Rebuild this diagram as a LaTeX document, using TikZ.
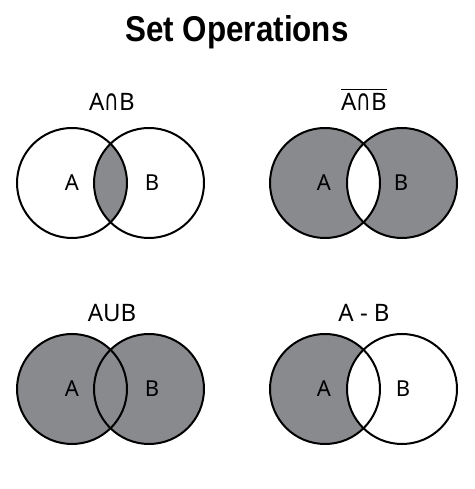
\documentclass[tikz,border=0pt]{standalone}
\usepackage{fontspec}
\usepackage{graphicx}
\setmainfont{Noto Sans}
\newfontfamily\capfont{DejaVu Sans}
\newfontfamily\headfont{Liberation Sans}
\newcommand{\mycap}{{\capfont\fontsize{20}{24}\selectfont\raisebox{0pt}{\scalebox{1}[1.45]{∩}}}}
\definecolor{setgray}{RGB}{136,138,141}
\begin{document}
\begin{tikzpicture}[x=1pt,y=1pt,
  setc/.style={circle, draw=black, line width=2pt, minimum size=110pt, inner sep=0pt},
  lab/.style={font=\fontsize{22}{24}\selectfont, inner sep=0pt},
  ttl/.style={font=\fontsize{24}{26}\selectfont, inner sep=0pt}]
\useasboundingbox (0,0) rectangle (474,489);
\fill[white] (0,0) rectangle (474,489);
% main title
\node[inner sep=0pt, anchor=base] (title) at (237,447) {\resizebox{223pt}{26pt}{\headfont\bfseries Set Operations}};

% coordinates of circle centres
\coordinate (c1a) at (72,306);  \coordinate (c1b) at (149,306);
\coordinate (c2a) at (325,306); \coordinate (c2b) at (402,306);
\coordinate (c3a) at (72,100);  \coordinate (c3b) at (149,100);
\coordinate (c4a) at (325,100); \coordinate (c4b) at (402,100);

% fills: intersection
\begin{scope}
  \clip (c1a) circle (55);
  \fill[setgray] (c1b) circle (55);
\end{scope}
% symmetric difference
\fill[setgray] (c2a) circle (55);
\fill[setgray] (c2b) circle (55);
\begin{scope}
  \clip (c2a) circle (55);
  \fill[white] (c2b) circle (55);
\end{scope}
% union
\fill[setgray] (c3a) circle (55);
\fill[setgray] (c3b) circle (55);
% difference
\fill[setgray] (c4a) circle (55);
\begin{scope}
  \clip (c4a) circle (55);
  \fill[white] (c4b) circle (55);
\end{scope}

% circles
\node[setc] (A1) at (c1a) {}; \node[setc] (B1) at (c1b) {};
\node[setc] (A2) at (c2a) {}; \node[setc] (B2) at (c2b) {};
\node[setc] (A3) at (c3a) {}; \node[setc] (B3) at (c3b) {};
\node[setc] (A4) at (c4a) {}; \node[setc] (B4) at (c4b) {};

% letters
\node[lab] (la1) at (72,306) {A};  \node[lab] (lb1) at (152,306) {B};
\node[lab] (la2) at (324,306) {A}; \node[lab] (lb2) at (401,306) {B};
\node[lab] (la3) at (72,100) {A};  \node[lab] (lb3) at (152,100) {B};
\node[lab] (la4) at (324,100) {A}; \node[lab] (lb4) at (403,100) {B};

% titles
\node[ttl, anchor=base] (t1) at (112,378) {A\mycap B};
\node[ttl, anchor=base] (t2) at (364,378) {A\mycap B};
\draw[line width=1.3pt] ([yshift=4pt]t2.north west) -- ([yshift=4pt]t2.north east);
\node[ttl] (t3) at (112,176) {AUB};
\node[ttl] (t4) at (364,176) {A - B};
\end{tikzpicture}
\end{document}
